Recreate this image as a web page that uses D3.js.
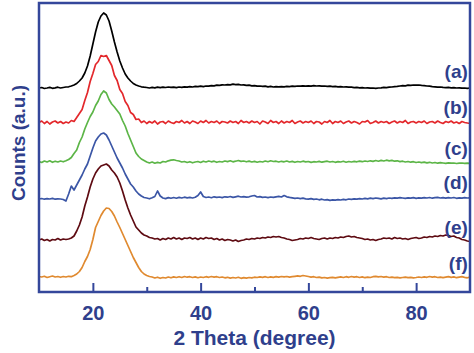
<!DOCTYPE html>
<html>
<head>
<meta charset="utf-8">
<script src="https://cdn.jsdelivr.net/npm/d3@7"></script>
<style>
  body { margin: 0; background: #fff; }
  text { font-family: "Liberation Sans", Arial, sans-serif; font-weight: bold; }
</style>
</head>
<body>
<div id="chart"></div>
<script>
// 2 theta sampling grid (degrees), 0.5 degree steps from 10 to 90
const theta = d3.range(10, 90.001, 0.5);

const sampleLabels = ["(a)", "(b)", "(c)", "(d)", "(e)", "(f)"];
const sampleColors = ["#000000", "#e3282c", "#5cb547", "#3b56a6", "#5e0b12", "#e08a30"];
// vertical offsets used to stack the patterns (a.u.)
const offsets = [204, 169.5, 130, 94, 53, 14.5];
// where the (a)..(f) tags sit (a.u.)
const labelLevels = [214, 178, 137, 103, 58, 22];

// intensities above each pattern's baseline (a.u.), one value per theta step
const countsA = [
  0, 0.5, -0.5, 0, 0.6, -0.3, 0.2, 0.8, 0, 0.5,
  1, 1.2, 2, 3, 4.5, 7, 10, 15, 22, 32,
  44, 56, 66, 72, 75, 73, 67, 57, 46, 36,
  27, 20, 14, 10, 7, 4.5, 3, 2, 1.2, 0.8,
  0.5, 0, 0.6, 0.2, 0.8, 0.4, 0.9, 0.5, 1, 0.6,
  0.8, 0.4, 1, 0.6, 1.2, 0.8, 1.4, 1, 1.6, 1.4,
  1.8, 1.4, 2, 1.8, 2.4, 2.2, 2.8, 2.6, 3.2, 3,
  3.4, 3.2, 3.8, 3.4, 3.6, 3, 3.2, 2.6, 2.8, 2.2,
  2.4, 1.8, 2, 1.6, 1.8, 1.2, 1.6, 1, 1.4, 1.2,
  1.4, 1.2, 1.6, 1.4, 1.8, 1.6, 2, 1.8, 2.2, 1.8,
  2.2, 1.8, 2.4, 2, 2.2, 1.8, 2, 1.6, 1.8, 1.4,
  1.6, 1.2, 1.4, 1, 1.2, 0.8, 0.8, 0.4, 0.6, 0.2,
  0.4, 0, 0.2, -0.2, 0, -0.4, 0, 0.2, 0.6, 0.4,
  0.8, 1, 1.4, 1.6, 2, 2.4, 2.2, 2.8, 2.6, 3,
  2.8, 3, 2.6, 2.4, 2, 1.8, 1.4, 1.2, 0.8, 1,
  0.6, 0.4, 0.6, 0.2, 0.4, 0, 0.2, -0.2, 0, -0.4,
  0
];
const countsB = [
  0, 1.5, -1, 1, -1.5, 0.5, 1.5, -0.5, 1, -1,
  0.5, -0.5, 2, 1, 5, 9, 13, 22, 30, 41,
  49, 58, 61, 67, 66, 67, 62, 57, 47, 42,
  33, 29, 21, 17, 10, 8, 3, 3.5, 0, 1.5,
  -1, 1, -0.5, 1.5, -1.5, 0.5, 1, -1, 1.5, 0,
  -1, 1, 0, 2, -0.5, 1, -1, 1.5, 0.5, -1,
  1.5, 0, 2, -0.5, 1, 0, 1.5, -1, 1, 0.5,
  -0.5, 1.5, 0, 1, -1, 2, 0, 1, -0.5, 1.5,
  0, 1, -1.5, 1.5, 0.5, -1, 2, 0, 1, -1,
  1.5, -0.5, 1, 0, 2, -1, 0.5, 1.5, -0.5, 1,
  0, 1.5, -1, 1, 0.5, -1.5, 1, 0, 2, -1,
  1, 0, 1.5, -1, 0.5, 1.5, -0.5, 1, 0, -1.5,
  1, 0.5, 2, -1, 0, 1.5, -0.5, 1, 0, 1,
  -1, 0.5, 1.5, -0.5, 1, 0, 2, -1, 0.5, 1,
  -0.5, 1, 0, 1.5, -1, 0.5, 1, -0.5, 1.5, 0,
  -1, 1, 0, 1.5, -0.5, 0.5, -1, 1, 0, -0.5,
  -1
];
const countsC = [
  0.5, -0.5, 1, 0, 1.2, -0.3, 0.8, 0, 1, 0.2,
  1.2, 2.5, 4.5, 8.5, 12, 19.5, 25, 33, 39.5, 45.5,
  50, 56.5, 61, 67.5, 71, 69, 62.5, 58, 55, 51.5,
  48, 41.5, 36, 28.5, 22, 15.5, 9, 5.5, 3, 1.5,
  0, -1, 0, -1.2, -0.4, -1, 0.5, 0, 1.2, 1.8,
  2.2, 1.5, 1, 0, 0.5, -0.5, 0.3, -0.8, 0, 0.5,
  -0.5, 0.8, 0, 1, 0.2, 0.8, -0.3, 0.5, 0, 1,
  0.4, 1.2, 0.2, 0.8, 1.5, 0.6, 1, 0.2, 0.9, 0,
  0.6, -0.2, 0.5, 0, 1, 0.3, 1.2, 0.5, 0.8, 0,
  0.7, 0.2, 1, 0, 0.6, -0.3, 0.5, 0, 0.8, 0.2,
  0.5, -0.4, 0.3, 0, 0.6, -0.2, 0.4, 0.8, 0, 0.5,
  -0.3, 0.3, 0, 0.7, -0.2, 0.5, 0, 0.6, 0.2, 0.9,
  0.3, 1, 0.5, 1.2, 0.6, 1.5, 0.8, 1.6, 1, 1.8,
  1.2, 1.6, 0.8, 1.2, 0.4, 0.8, 0, 0.5, -0.2, 0.3,
  -0.5, 0, -0.6, -0.2, -0.8, -0.3, -1, -0.5, -1.2, -0.6,
  -1, -1.4, -0.8, -1.2, -1, -1.5, -1.2, -1, -1.4, -1.2,
  -1.3
];
const countsD = [
  -1, -0.5, -1.2, -0.6, -1, -0.4, -1.2, -0.8, -1, -1.5,
  -3, 4, 12, 8, 13, 18, 23, 29, 34, 42,
  50, 57, 61, 64, 65, 63, 58, 52, 46, 40,
  35, 30, 24, 19, 14, 11, 7, 4, 2, 0.5,
  0, -0.8, 0.2, 1.5, 7, 2, 0, -0.6, 0.4, -0.3,
  0.5, -0.2, 0.6, 0, 0.8, 0.2, 0.6, 0, 0.8, 2.5,
  6, 1.5, 0.5, 1, 0.3, 1.2, 0.6, 1, 0.4, 1.2,
  0.8, 1.5, 0.6, 1.2, 1.8, 1, 1.4, 0.8, 1.2, 2,
  2.5, 1, 1.4, 0.6, 1, 0.4, 1, 0.6, 1.2, 1.6,
  1, 2.5, 1.2, 0.6, 0.2, -0.4, 0, -0.6, -0.2, -0.8,
  -1.2, -0.6, -1.4, -1, -1.8, -1.2, -2, -1.6, -2.4, -1.8,
  -2.2, -1.6, -2, -1.4, -1.8, -1, -1.4, -0.8, -1.2, -0.6,
  -1, -0.4, -0.8, -0.2, -0.6, 0, -0.4, -0.8, -0.2, -0.6,
  0, -0.4, 0.2, -0.2, 0.4, 0, -0.4, 0.2, -0.2, 0.3,
  -0.3, 0.2, -0.2, 0.4, 0, 0.5, -0.2, 0.3, 0.6, 0,
  0.4, -0.2, 0.3, 0, 0.5, -0.3, 0.2, -0.2, 0.4, 0,
  0.2
];
const countsE = [
  -1, 0, -1.5, -0.5, -2, -0.5, -1, 0.5, -1, 0,
  -0.5, 0, 1, 3, 8, 14, 22, 33, 42, 52,
  60, 66, 70, 73, 74, 75, 73, 69, 66, 62,
  56, 48, 39, 31, 24, 18, 12, 9, 6, 4,
  3, 1.5, 1, 0, 0.5, -1, 0.5, -0.5, 1, 0,
  1.5, 0, 1, -0.5, 1, 0.5, 1.5, 0, 1, -0.5,
  1, 0, 1.5, 0.5, 1, -0.5, 0.5, -1, 0, -1.5,
  -0.5, -1, -2, -1, -2.5, -1.5, -1, 0, -0.5, 0.5,
  0, 1, 0.5, 1.5, 1, 2, 1.5, 2.5, 2, 2.5,
  1.5, 1, 0, -0.5, -1.5, -1, -0.5, 0.5, 0, 1,
  0.5, 1.5, 0.5, 0, -0.5, 0.5, 1, 0, 1, 0.5,
  1.5, 1, 2, 1.5, 2.5, 3, 2, 2.5, 1.5, 1,
  0.5, -0.5, 0, -1, -0.5, -1.5, -0.5, 0, 1, 0.5,
  1, 0, 1.5, 0.5, 1, 0, 0.5, -0.5, 0.5, 1,
  1.5, 0.5, 1, 2, 1.5, 2.5, 2, 3, 2.5, 3.5,
  3, 4, 3.5, 2.5, 3, 1.5, 1, -0.5, -1, -2,
  -2.5
];
const countsF = [
  1, 0.5, 1.2, 0, 0.8, 1.5, 0.5, 1, 0.2, 1,
  0.5, 1.2, 0.8, 2, 3.5, 6, 10, 16, 21, 28,
  38, 50, 56, 62, 66.5, 69.5, 69, 66, 61.5, 55.5,
  50, 44, 38, 32, 26, 20, 15, 10, 6, 3.5,
  2, 1, 0.5, -0.5, 0.3, -0.8, 0, -0.5, 0.5, -0.3,
  0.6, 0, 0.8, 0, 1, 0.3, 0.8, 0, 0.6, -0.2,
  0.5, 0, 0.8, 0.2, 1, 0.4, 0.8, 0, 0.5, -0.3,
  0.2, -0.6, 0, -0.5, 0.2, -0.8, -0.2, -0.6, 0, -0.4,
  0.3, 0, 0.6, 0.2, 0.8, 0, 0.6, 0.2, 0.8, 0.4,
  1, 0.6, 1, 0.4, 0.8, 1.2, 1.6, 1.2, 2, 1.5,
  1, 0.4, 0.8, 0, 0.4, -0.4, 0, -0.6, -0.2, 0.2,
  -0.4, 0.2, 0.6, 0, 0.8, 0.2, 1, 0.4, 0.8, 0,
  0.6, -0.2, 0.4, 0, 0.8, 1.2, 0.6, 1, 0.4, 0.8,
  0, 0.4, -0.2, 0.2, -0.4, 0, 0.4, -0.2, 0.2, -0.4,
  0, 0.5, 0, 0.6, 0.2, 1, 0.4, 0.8, 0, 0.4,
  -0.2, 0.3, 0.8, 0.2, 0.6, -0.2, 0.3, 0.8, 0.2, -0.3,
  0.4
];
const allCounts = [countsA, countsB, countsC, countsD, countsE, countsF];

const majorTicks = [20, 40, 60, 80];
const minorTicks = [30, 50, 70];

const width = 474, height = 353;
const margin = { top: 3, right: 4, bottom: 61, left: 39 };
const axisColor = "#34479b";
const textColor = "#2f3f8c";

const svg = d3.select("#chart")
  .append("svg")
  .attr("width", width)
  .attr("height", height);

const x = d3.scaleLinear()
  .domain([10, 90])
  .range([margin.left, width - margin.right]);

const y = d3.scaleLinear()
  .domain([0, 289])
  .range([height - margin.bottom, margin.top]);

// patterns
const line = d3.line()
  .x(d => x(d[0]))
  .y(d => y(d[1]));

allCounts.forEach((counts, i) => {
  const pts = theta.map((t, j) => [t, counts[j] + offsets[i]]);
  svg.append("path")
    .datum(pts)
    .attr("fill", "none")
    .attr("stroke", sampleColors[i])
    .attr("stroke-width", 1.7)
    .attr("stroke-linejoin", "round")
    .attr("d", line);
});

// sample tags
svg.selectAll("text.tag")
  .data(sampleLabels)
  .enter().append("text")
  .attr("class", "tag")
  .attr("x", x(89.6))
  .attr("y", (d, i) => y(labelLevels[i]))
  .attr("text-anchor", "end")
  .attr("font-size", 19)
  .attr("fill", textColor)
  .text(d => d);

// x axis: major ticks with labels, minor ticks without, both pointing inward
const bottom = height - margin.bottom;
const xMajor = svg.append("g")
  .attr("transform", `translate(0,${bottom})`)
  .call(d3.axisBottom(x).tickValues(majorTicks).tickSize(-9).tickPadding(14).tickFormat(d3.format("d")));
xMajor.select(".domain").remove();
xMajor.selectAll("line").attr("stroke", axisColor).attr("stroke-width", 2);
xMajor.selectAll("text")
  .attr("font-size", 20)
  .attr("font-family", "Liberation Sans, Arial, sans-serif")
  .attr("font-weight", "bold")
  .attr("fill", textColor);

const xMinor = svg.append("g")
  .attr("transform", `translate(0,${bottom})`)
  .call(d3.axisBottom(x).tickValues(minorTicks).tickSize(-5).tickFormat(""));
xMinor.select(".domain").remove();
xMinor.selectAll("line").attr("stroke", axisColor).attr("stroke-width", 2);

// frame
svg.append("rect")
  .attr("x", x(10))
  .attr("y", y(289))
  .attr("width", x(90) - x(10))
  .attr("height", y(0) - y(289))
  .attr("fill", "none")
  .attr("stroke", axisColor)
  .attr("stroke-width", 2.5);

// axis titles
svg.append("text")
  .attr("x", (x(10) + x(90)) / 2)
  .attr("y", 345)
  .attr("text-anchor", "middle")
  .attr("font-size", 21)
  .attr("fill", textColor)
  .text("2 Theta (degree)");

svg.append("text")
  .attr("transform", "rotate(-90)")
  .attr("x", -143)
  .attr("y", 25)
  .attr("text-anchor", "middle")
  .attr("font-size", 19)
  .attr("fill", textColor)
  .text("Counts (a.u.)");
</script>
</body>
</html>
